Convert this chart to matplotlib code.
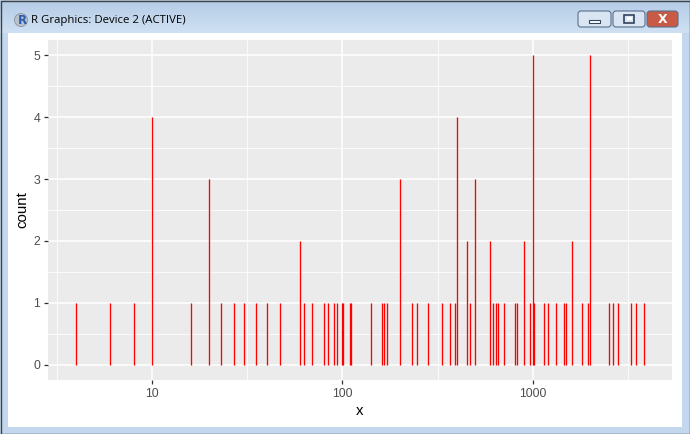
import numpy as np
import matplotlib
matplotlib.use("Agg")
import matplotlib.pyplot as plt
from matplotlib.patches import Rectangle, Circle, FancyBboxPatch
from matplotlib.ticker import FixedLocator, FixedFormatter, NullLocator
from matplotlib.colors import LinearSegmentedColormap

# ---- data (distinct x values and their counts) ----
x_values = [4, 6, 8, 10, 16, 20, 23, 27, 30.5, 35, 40, 47, 60, 62.5, 69, 80, 84, 90,
            94, 99, 101, 109, 111, 142, 162, 166, 172, 200, 233, 247, 282, 332, 366,
            390, 400, 450, 469, 500, 600, 618, 641, 657, 707, 811, 827, 900, 966,
            1000, 1014, 1145, 1200, 1323, 1457, 1493, 1600, 1811, 1946, 2000, 2507,
            2631, 2797, 3271, 3475, 3829]
counts = [1, 1, 1, 4, 1, 3, 1, 1, 1, 1, 1, 1, 2, 1, 1, 1, 1, 1,
          1, 1, 1, 1, 1, 1, 1, 1, 1, 3, 1, 1, 1, 1, 1,
          1, 4, 2, 1, 3, 2, 1, 1, 1, 1, 1, 1, 2, 1,
          5, 1, 1, 1, 1, 1, 1, 2, 1, 1, 5, 1,
          1, 1, 1, 1, 1]
x_ticks = [10, 100, 1000]
x_tick_labels = ["10", "100", "1000"]
y_ticks = [0, 1, 2, 3, 4, 5]
window_title = "R Graphics: Device 2 (ACTIVE)"

W, H = 690, 434
fig = plt.figure(figsize=(W / 100, H / 100), dpi=100)
fig.patch.set_facecolor("#c3d8ee")


def rect(x0, y0, x1, y1, fc, ec="none", lw=0, z=1):
    p = Rectangle((x0 / W, 1 - y1 / H), (x1 - x0) / W, (y1 - y0) / H,
                  transform=fig.transFigure, facecolor=fc,
                  edgecolor=ec, linewidth=lw, zorder=z)
    fig.patches.append(p)
    return p


# title bar gradient
gax = fig.add_axes([0, 1 - 33 / H, 1, 33 / H])
grad = np.linspace(0, 1, 64).reshape(-1, 1)
cmap = LinearSegmentedColormap.from_list("tb", ["#b4cce6", "#cfe0f2"])
gax.imshow(grad, aspect="auto", cmap=cmap, extent=[0, 1, 0, 1])
gax.set_axis_off()
gax.set_zorder(0)

# white client area
rect(8, 33, 682, 427, "white", z=1)
# outer dark border
rect(0.5, 0.5, W - 0.5, H - 0.5, "none", ec="#404040", lw=1.0, z=5)

# window buttons
btn_ax = fig.add_axes([0, 0, 1, 1], facecolor="none")
btn_ax.set_xlim(0, W)
btn_ax.set_ylim(H, 0)
btn_ax.set_axis_off()
btn_ax.set_zorder(3)
for (x0, x1, fc) in [(578, 611, "#d9e5f2"), (613, 645, "#d9e5f2"), (647, 678, "#c95a45")]:
    btn_ax.add_patch(FancyBboxPatch((x0, 11), x1 - x0, 16,
                                    boxstyle="round,pad=0,rounding_size=3",
                                    facecolor=fc, edgecolor="#5a6f8c", linewidth=0.8))
btn_ax.add_patch(Rectangle((589, 19.5), 11, 3.5, facecolor="white", edgecolor="#33445e", linewidth=0.8))
btn_ax.add_patch(Rectangle((624, 14.5), 10, 8, facecolor="none", edgecolor="#33445e", linewidth=1.2))
btn_ax.add_patch(Rectangle((626.5, 17), 5, 3, facecolor="white", edgecolor="none"))
btn_ax.text(662.5, 19.5, "X", ha="center", va="center", fontsize=9, fontweight="bold",
            color="white", family="DejaVu Sans")
# R icon
btn_ax.add_patch(Circle((21, 20), 6.5, facecolor="#b8c0cc", edgecolor="#8a94a3", linewidth=0.6))
btn_ax.text(22.5, 21, "R", ha="center", va="center", fontsize=8.5, fontweight="bold",
            color="#2a5db0", family="DejaVu Sans")
btn_ax.text(31, 20.5, window_title, ha="left", va="center", fontsize=8.2,
            color="black", family="Open Sans")

# ---- plot panel ----
ax = fig.add_axes([48 / W, 1 - 380 / H, 624 / W, 340 / H])
ax.set_zorder(4)
ax.set_facecolor("#EBEBEB")
for s in ax.spines.values():
    s.set_visible(False)

ax.set_xscale("log")
lx = np.log10(x_values)
span = lx.max() - lx.min()
ax.set_xlim(10 ** (lx.min() - 0.05 * span), 10 ** (lx.max() + 0.05 * span))
ax.set_ylim(-0.05 * max(counts), max(counts) * 1.05)

ax.xaxis.set_major_locator(FixedLocator(x_ticks))
ax.xaxis.set_major_formatter(FixedFormatter(x_tick_labels))
ax.xaxis.set_minor_locator(NullLocator())
ax.set_yticks(y_ticks)

# minor grid lines (midpoints in transformed space)
for mx in [10 ** 0.5, 10 ** 1.5, 10 ** 2.5, 10 ** 3.5]:
    ax.axvline(mx, color="white", lw=0.55, zorder=0.5)
for my in [0.5, 1.5, 2.5, 3.5, 4.5]:
    ax.axhline(my, color="white", lw=0.55, zorder=0.5)
ax.grid(True, which="major", color="white", lw=1.1, zorder=0.6)
ax.set_axisbelow(True)

ax.vlines(x_values, 0, counts, color="#FF0000", lw=0.95, zorder=2)

ax.tick_params(axis="both", which="major", color="#333333", length=3, width=0.9,
               labelcolor="#4D4D4D", labelsize=8.8, pad=2.5)
for lab in ax.get_xticklabels() + ax.get_yticklabels():
    lab.set_family("Liberation Sans")

ax.set_xlabel("x", fontsize=10.8, family="Liberation Sans", labelpad=3)
ax.set_ylabel("count", fontsize=10.8, family="Liberation Sans", labelpad=3)

fig.savefig("out.png", dpi=100, facecolor=fig.get_facecolor())
